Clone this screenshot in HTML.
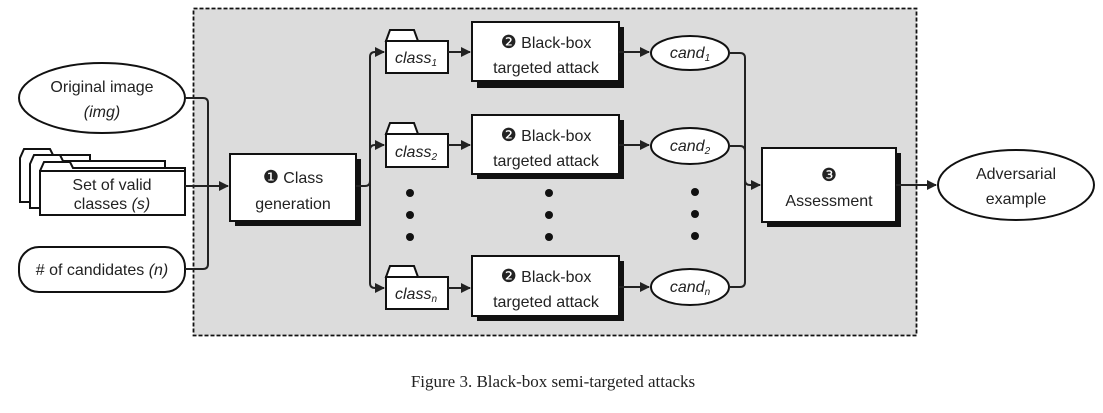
<!DOCTYPE html>
<html><head><meta charset="utf-8"><style>
body{margin:0;background:#fff;width:1103px;height:408px;overflow:hidden}
text{font-family:"Liberation Sans","DejaVu Sans",sans-serif;fill:#222}
.n{font-family:"DejaVu Sans",sans-serif;font-size:18px}
</style></head><body>
<svg width="1103" height="408" xmlns="http://www.w3.org/2000/svg">
<defs>
<marker id="a" markerWidth="10" markerHeight="10" refX="9" refY="5" orient="auto" markerUnits="userSpaceOnUse"><path d="M0,0 L10,5 L0,10z" fill="#222"/></marker>
</defs>
<rect x="193.5" y="8.5" width="723" height="327" fill="#dcdcdc" stroke="#111" stroke-width="1.8" stroke-dasharray="4,2"/>
<g stroke="#111" stroke-width="2" fill="#fff">
<ellipse cx="102" cy="98" rx="83" ry="35"/>
<path d="M20,202 V158 l4,-9 h26 l3,6 H90 V202z"/>
<path d="M30,208 V164 l4,-9 h26 l3,6 H165 V208z"/>
<path d="M40,215 V171 l4,-9 h26 l3,6 H185 V215z"/>
<rect x="40" y="171" width="145" height="44"/>
<rect x="19" y="247" width="166" height="45" rx="20"/>
</g>
<g fill="#111">
<rect x="235" y="159" width="126" height="67"/>
<rect x="477" y="27" width="147" height="61"/>
<rect x="477" y="120" width="147" height="59"/>
<rect x="477" y="261" width="147" height="60"/>
<rect x="767" y="153" width="134" height="74"/>
</g>
<g stroke="#111" stroke-width="2" fill="#fff">
<rect x="230" y="154" width="126" height="67"/>
<rect x="472" y="22" width="147" height="59"/>
<rect x="472" y="115" width="147" height="59"/>
<rect x="472" y="256" width="147" height="60"/>
<rect x="762" y="148" width="134" height="74"/>
<ellipse cx="1016" cy="185" rx="78" ry="35"/>
<ellipse cx="690" cy="53" rx="39" ry="17"/>
<ellipse cx="690" cy="146" rx="39" ry="18"/>
<ellipse cx="690" cy="287" rx="39" ry="18"/>
<path d="M386,41 l4,-11 h24 l4,11z"/><rect x="386" y="41" width="62" height="32"/>
<path d="M386,134 l4,-11 h24 l4,11z"/><rect x="386" y="134" width="62" height="33"/>
<path d="M386,277 l4,-11 h24 l4,11z"/><rect x="386" y="277" width="62" height="32"/>
</g>
<g stroke="#222" stroke-width="2" fill="none">
<path d="M185,98 H203 q5,0 5,5 V264 q0,5 -5,5 H185"/>
<path d="M185,186 H228" marker-end="url(#a)"/>
<path d="M356,186 H365 q5,0 5,-5 V57 q0,-5 5,-5 H384" marker-end="url(#a)"/>
<path d="M370,181 V283 q0,5 5,5 H384" marker-end="url(#a)"/>
<path d="M370,150 q0,-5 5,-5 H384" marker-end="url(#a)"/>
<path d="M448,52 H470" marker-end="url(#a)"/>
<path d="M448,145 H470" marker-end="url(#a)"/>
<path d="M448,288 H470" marker-end="url(#a)"/>
<path d="M619,52 H649" marker-end="url(#a)"/>
<path d="M619,145 H649" marker-end="url(#a)"/>
<path d="M619,287 H649" marker-end="url(#a)"/>
<path d="M729,53 H740 q5,0 5,5 V282 q0,5 -5,5 H729"/>
<path d="M729,146 H740 q5,0 5,5"/>
<path d="M745,180 q0,5 5,5 H760" marker-end="url(#a)"/>
<path d="M896,185 H936" marker-end="url(#a)"/>
</g>
<g fill="#111">
<circle cx="410" cy="193" r="4"/><circle cx="410" cy="215" r="4"/><circle cx="410" cy="237" r="4"/>
<circle cx="549" cy="193" r="4"/><circle cx="549" cy="215" r="4"/><circle cx="549" cy="237" r="4"/>
<circle cx="695" cy="192" r="4"/><circle cx="695" cy="214" r="4"/><circle cx="695" cy="236" r="4"/>
</g>
<g font-size="16" text-anchor="middle">
<text x="102" y="92">Original image</text>
<text x="102" y="117" font-style="italic">(img)</text>
<text x="112" y="190">Set of valid</text>
<text x="112" y="209">classes <tspan font-style="italic">(s)</tspan></text>
<text x="102" y="275"># of candidates <tspan font-style="italic">(n)</tspan></text>
<text x="293" y="183"><tspan class="n">❶</tspan> Class</text>
<text x="293" y="209">generation</text>
<text x="546" y="48"><tspan class="n">❷</tspan> Black-box</text>
<text x="546" y="73">targeted attack</text>
<text x="546" y="141"><tspan class="n">❷</tspan> Black-box</text>
<text x="546" y="166">targeted attack</text>
<text x="546" y="282"><tspan class="n">❷</tspan> Black-box</text>
<text x="546" y="307">targeted attack</text>
<text x="829" y="181" class="n">❸</text>
<text x="829" y="206">Assessment</text>
<text x="1016" y="179">Adversarial</text>
<text x="1016" y="204">example</text>
<g font-style="italic">
<text x="416" y="63">class<tspan font-size="10" dy="3">1</tspan></text>
<text x="416" y="157">class<tspan font-size="10" dy="3">2</tspan></text>
<text x="416" y="299">class<tspan font-size="10" dy="3">n</tspan></text>
<text x="690" y="58">cand<tspan font-size="10" dy="3">1</tspan></text>
<text x="690" y="151">cand<tspan font-size="10" dy="3">2</tspan></text>
<text x="690" y="292">cand<tspan font-size="10" dy="3">n</tspan></text>
</g>
</g>
<text x="553" y="387" text-anchor="middle" font-size="17" style="font-family:'Liberation Serif',serif">Figure 3.  Black-box semi-targeted attacks</text>
</svg>
</body></html>
